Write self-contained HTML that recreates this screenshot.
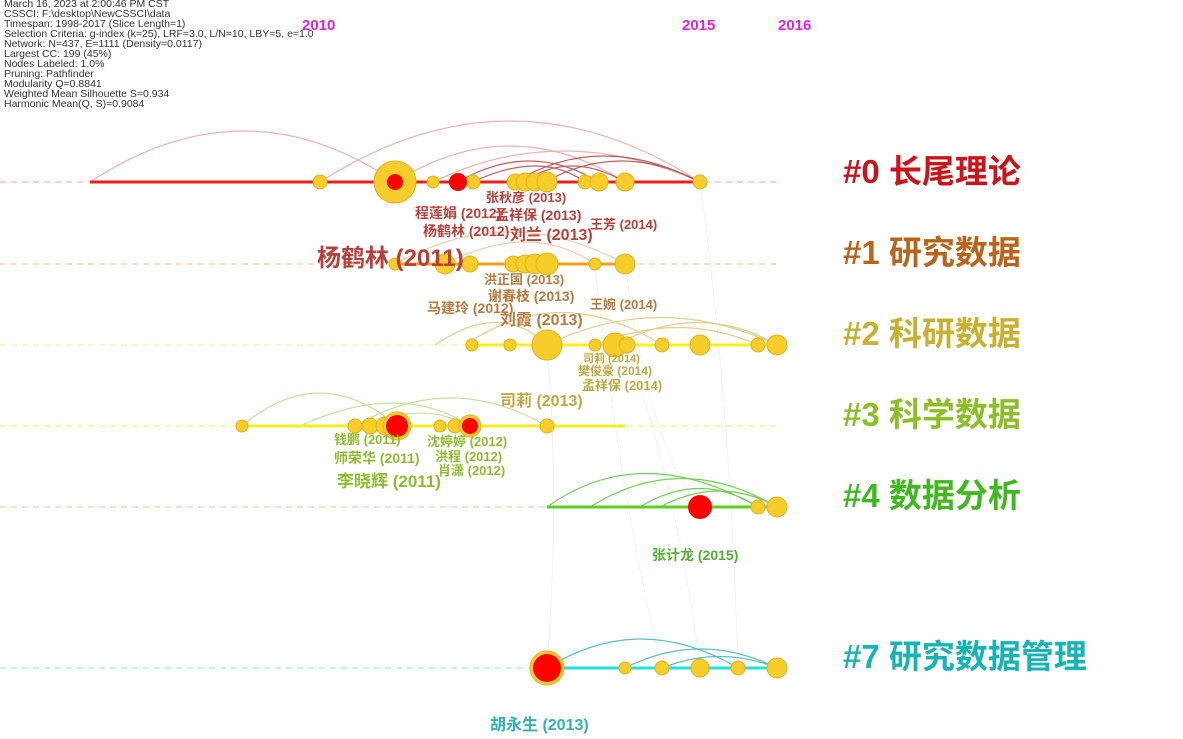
<!DOCTYPE html>
<html><head><meta charset="utf-8"><style>
body{margin:0;background:#fff;}
svg{display:block;}
.info{font-family:"Liberation Sans",sans-serif;font-size:10.5px;fill:#333;}
.yr{font-family:"Liberation Sans",sans-serif;font-size:15px;font-weight:bold;fill:#e020e0;}
.cl{font-family:"Liberation Sans","Noto Sans CJK SC",sans-serif;font-size:33px;font-weight:bold;}
.lb{font-family:"Liberation Sans","Noto Sans CJK SC",sans-serif;font-weight:bold;}
</style></head><body>
<svg width="1183" height="739" viewBox="0 0 1183 739" xmlns="http://www.w3.org/2000/svg">
<g class="info">
<text x="4" y="7">March 16, 2023 at 2:00:46 PM CST</text>
<text x="4" y="17">CSSCI: F:\desktop\NewCSSCI\data</text>
<text x="4" y="27">Timespan: 1998-2017 (Slice Length=1)</text>
<text x="4" y="37">Selection Criteria: g-index (k=25), LRF=3.0, L/N=10, LBY=5, e=1.0</text>
<text x="4" y="47">Network: N=437, E=1111 (Density=0.0117)</text>
<text x="4" y="57">Largest CC: 199 (45%)</text>
<text x="4" y="67">Nodes Labeled: 1.0%</text>
<text x="4" y="77">Pruning: Pathfinder</text>
<text x="4" y="87">Modularity Q=0.8841</text>
<text x="4" y="97">Weighted Mean Silhouette S=0.934</text>
<text x="4" y="107">Harmonic Mean(Q, S)=0.9084</text>
</g>
<text class="yr" x="302" y="30">2010</text>
<text class="yr" x="682" y="30">2015</text>
<text class="yr" x="778" y="30">2016</text>

<g stroke-dasharray="6,5" stroke-width="1">
<line x1="0" y1="182" x2="780" y2="182" stroke="#f0a0a0"/>
<line x1="0" y1="264" x2="780" y2="264" stroke="#f0c090"/>
<line x1="0" y1="345" x2="780" y2="345" stroke="#f0f080"/>
<line x1="0" y1="426" x2="780" y2="426" stroke="#f0f060"/>
<line x1="0" y1="507" x2="780" y2="507" stroke="#b0e090"/>
<line x1="0" y1="668" x2="780" y2="668" stroke="#90e0e0"/>
</g>

<g stroke="#ddd" stroke-width="0.6" fill="none" opacity="0.6">
<path d="M547 345 Q560 500 547 668"/><path d="M625 264 Q650 450 700 507"/><path d="M700 182 Q730 400 738 668"/>
<path d="M595 264 Q620 500 662 668"/><path d="M515 182 Q530 300 547 345"/><path d="M627 345 Q680 500 700 668"/>
</g>

<g fill="none" stroke-width="1.2">
<g stroke="#e08080" opacity="0.6">
<path d="M90 182 Q245 80 395 182"/><path d="M320 182 Q510 60 700 182"/><path d="M395 182 Q510 110 625 182"/><path d="M433 182 Q560 120 700 182"/>
</g>
<g stroke="#a02020" opacity="0.7">
<path d="M458 182 Q530 140 599 182"/><path d="M515 182 Q600 130 700 182"/><path d="M545 182 Q620 140 700 182"/><path d="M523 182 Q570 150 625 182"/><path d="M473 182 Q540 150 585 182"/>
</g>
<g stroke="#e0b080" opacity="0.6">
<path d="M395 264 Q510 200 625 264"/><path d="M445 264 Q530 220 595 264"/>
</g>
<g stroke="#c8b040" opacity="0.6">
<path d="M465 345 Q560 280 662 345"/><path d="M547 345 Q660 290 777 345"/><path d="M615 345 Q700 300 777 345"/><path d="M595 345 Q680 310 758 345"/><path d="M435 345 Q500 300 547 345"/>
</g>
<g stroke="#9cd060" opacity="0.6">
<path d="M242 426 Q320 360 397 426"/><path d="M355 426 Q450 370 547 426"/><path d="M300 426 Q400 380 470 426"/><path d="M370 426 Q420 400 470 426"/>
</g>
<g stroke="#50c030" opacity="0.8">
<path d="M547 507 Q640 440 758 507"/><path d="M590 507 Q680 450 777 507"/><path d="M640 507 Q700 470 758 507"/><path d="M660 507 Q720 475 777 507"/>
</g>
<g stroke="#30b0b0" opacity="0.8">
<path d="M547 668 Q640 610 738 668"/><path d="M625 668 Q700 630 777 668"/><path d="M662 668 Q720 645 777 668"/>
</g>
</g>

<line x1="90" y1="182" x2="700" y2="182" stroke="#e8201c" stroke-width="3"/>
<line x1="395" y1="264" x2="625" y2="264" stroke="#f0a020" stroke-width="3"/>
<line x1="465" y1="345" x2="780" y2="345" stroke="#f8f020" stroke-width="3"/>
<line x1="240" y1="426" x2="625" y2="426" stroke="#f0f020" stroke-width="3"/>
<line x1="547" y1="507" x2="780" y2="507" stroke="#58d020" stroke-width="3"/>
<line x1="547" y1="668" x2="780" y2="668" stroke="#20e0e0" stroke-width="3"/>

<g fill="#f7cd2a" stroke="#e0b020" stroke-width="1">
<circle cx="320" cy="182" r="7"/><circle cx="395" cy="182" r="21"/><circle cx="433" cy="182" r="6"/><circle cx="473" cy="182" r="7"/>
<circle cx="515" cy="182" r="8"/><circle cx="525" cy="182" r="9"/><circle cx="535" cy="182" r="9"/><circle cx="547" cy="182" r="10"/>
<circle cx="585" cy="182" r="7"/><circle cx="599" cy="182" r="9"/><circle cx="625" cy="182" r="9"/><circle cx="700" cy="182" r="7"/>
<circle cx="395" cy="264" r="6"/><circle cx="445" cy="264" r="10"/><circle cx="470" cy="264" r="8"/><circle cx="513" cy="264" r="8"/>
<circle cx="525" cy="264" r="9"/><circle cx="535" cy="264" r="10"/><circle cx="547" cy="264" r="11"/><circle cx="595" cy="264" r="6"/><circle cx="625" cy="264" r="10"/>
<circle cx="472" cy="345" r="6"/><circle cx="510" cy="345" r="6"/><circle cx="547" cy="345" r="15"/><circle cx="595" cy="345" r="6"/>
<circle cx="615" cy="345" r="12"/><circle cx="627" cy="345" r="8"/><circle cx="662" cy="345" r="7"/><circle cx="700" cy="345" r="10"/>
<circle cx="758" cy="345" r="7"/><circle cx="777" cy="345" r="10"/>
<circle cx="242" cy="426" r="6"/><circle cx="355" cy="426" r="7"/><circle cx="370" cy="426" r="8"/><circle cx="385" cy="426" r="9"/>
<circle cx="397" cy="426" r="14"/><circle cx="440" cy="426" r="6"/><circle cx="455" cy="426" r="7"/><circle cx="470" cy="426" r="11"/><circle cx="547" cy="426" r="7"/>
<circle cx="758" cy="507" r="7"/><circle cx="777" cy="507" r="10"/>
<circle cx="547" cy="668" r="17"/><circle cx="625" cy="668" r="6"/><circle cx="662" cy="668" r="7"/><circle cx="700" cy="668" r="9"/><circle cx="738" cy="668" r="7"/><circle cx="777" cy="668" r="10"/>
</g>
<g fill="#f00">
<circle cx="395" cy="182" r="8"/><circle cx="458" cy="182" r="9"/><circle cx="397" cy="426" r="11"/><circle cx="470" cy="426" r="8"/>
<circle cx="700" cy="507" r="12"/><circle cx="547" cy="668" r="14"/>
</g>

<g class="lb" fill="#b8403a">
<text x="486" y="202" font-size="13">张秋彦 (2013)</text>
<text x="415" y="218" font-size="14">程莲娟 (2012)</text>
<text x="495" y="220" font-size="14">孟祥保 (2013)</text>
<text x="590" y="229" font-size="13">王芳 (2014)</text>
<text x="423" y="236" font-size="14">杨鹤林 (2012)</text>
<text x="510" y="240" font-size="16">刘兰 (2013)</text>
<text x="317" y="266" font-size="24">杨鹤林 (2011)</text>
</g>
<g class="lb" fill="#b87a40">
<text x="484" y="284" font-size="13">洪正国 (2013)</text>
<text x="488" y="301" font-size="14">谢春枝 (2013)</text>
<text x="590" y="309" font-size="13">王婉 (2014)</text>
<text x="427" y="313" font-size="14">马建玲 (2012)</text>
<text x="500" y="325" font-size="16">刘霞 (2013)</text>
</g>
<g class="lb" fill="#c0a840">
<text x="583" y="362" font-size="11">司莉 (2014)</text>
<text x="578" y="375" font-size="12">樊俊豪 (2014)</text>
<text x="582" y="390" font-size="13">孟祥保 (2014)</text>
<text x="500" y="406" font-size="16">司莉 (2013)</text>
</g>
<g class="lb" fill="#8cbc30">
<text x="334" y="444" font-size="13">钱鹏 (2011)</text>
<text x="427" y="446" font-size="13">沈婷婷 (2012)</text>
<text x="334" y="463" font-size="14">师荣华 (2011)</text>
<text x="435" y="461" font-size="13">洪程 (2012)</text>
<text x="438" y="475" font-size="13">肖潇 (2012)</text>
<text x="337" y="487" font-size="17">李晓辉 (2011)</text>
</g>
<text class="lb" x="652" y="560" font-size="14" fill="#50b030">张计龙 (2015)</text>
<text class="lb" x="490" y="730" font-size="16" fill="#30b0b8">胡永生 (2013)</text>

<g class="cl">
<text x="843" y="183" fill="#c8141a">#0 长尾理论</text>
<text x="843" y="264" fill="#b8641a">#1 研究数据</text>
<text x="843" y="345" fill="#c8b030">#2 科研数据</text>
<text x="843" y="426" fill="#8cbf26">#3 科学数据</text>
<text x="843" y="507" fill="#40b820">#4 数据分析</text>
<text x="843" y="668" fill="#18b4b4">#7 研究数据管理</text>
</g>
</svg>
</body></html>
